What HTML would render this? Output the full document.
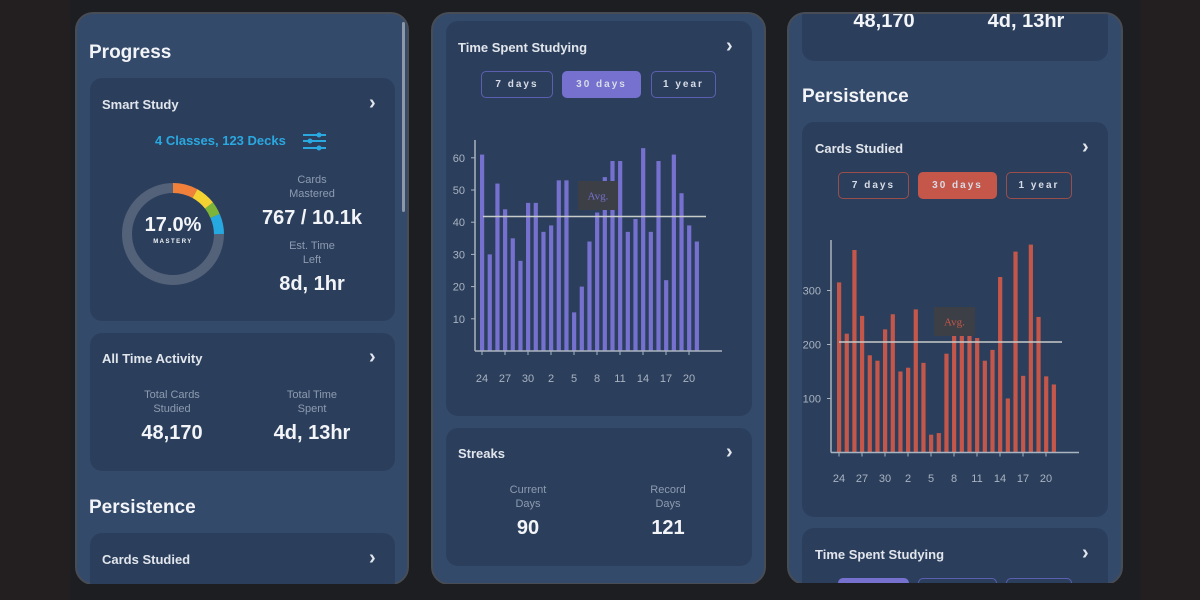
<!DOCTYPE html>
<html><head><style>
*{margin:0;padding:0;box-sizing:border-box}
body{width:1200px;height:600px;overflow:hidden;background:#1c1e22;font-family:"Liberation Sans",sans-serif;position:relative;color:#e8ecf2}
.a{position:absolute}
.panel{position:absolute;background:#344a6b;border:2px solid #474c55;border-radius:18px;overflow:hidden}
.card{position:absolute;background:#2b3f5d;border-radius:12px}
.h1{position:absolute;font-size:19px;font-weight:bold;color:#f2f4f7}
.t{position:absolute;font-size:13px;font-weight:bold;color:#e2e6ec}
.chev{position:absolute;font-size:20px;font-weight:bold;color:#e2e6ec;line-height:20px}
.lbl{position:absolute;font-size:11px;color:#8d9bb0;text-align:center;line-height:14px}
.big{position:absolute;font-size:20px;font-weight:bold;color:#f2f4f7;text-align:center}
.btn{position:absolute;border:1.5px solid;border-radius:5px;font-size:10px;font-weight:bold;letter-spacing:2px;color:#d8dce6;display:flex;align-items:center;justify-content:center}
</style></head><body>
<div class="a" style="left:0;top:0;width:70px;height:600px;background:#231f20"></div>
<div class="a" style="left:1140px;top:0;width:60px;height:600px;background:#231f20"></div>

<!-- LEFT PANEL -->
<div class="panel" style="left:75px;top:12px;width:334px;height:573px"></div>
<div class="a" style="left:402px;top:22px;width:3px;height:190px;background:#8c97a8;border-radius:2px"></div>
<div class="h1" style="left:89px;top:42px">Progress</div>
<div class="card" style="left:90px;top:78px;width:305px;height:243px"></div>
<div class="t" style="left:102px;top:97px">Smart Study</div>
<div class="chev" style="left:369px;top:93px">›</div>
<div class="a" style="left:155px;top:133px;font-size:13px;font-weight:bold;color:#2aa8e0">4 Classes, 123 Decks</div>
<svg class="a" style="left:302px;top:131px" width="26" height="20"><g stroke="#2aa8e0" stroke-width="2"><line x1="1" y1="4" x2="24" y2="4"/><line x1="1" y1="10" x2="24" y2="10"/><line x1="1" y1="17" x2="24" y2="17"/></g><g fill="#2aa8e0"><circle cx="17" cy="4" r="2.5"/><circle cx="8" cy="10" r="2.5"/><circle cx="17" cy="17" r="2.5"/></g></svg>
<svg class="a" style="left:118px;top:179px" width="110" height="110">
<circle cx="55" cy="55" r="46" fill="none" stroke="#536179" stroke-width="10"/>
<path d="M55 9 A46 46 0 0 1 77 14.6" fill="none" stroke="#f0803a" stroke-width="10"/>
<path d="M77 14.6 A46 46 0 0 1 91 26.5" fill="none" stroke="#f3d232" stroke-width="10"/>
<path d="M91 26.5 A46 46 0 0 1 97 37" fill="none" stroke="#7db53a" stroke-width="10"/>
<path d="M97 37 A46 46 0 0 1 101 55" fill="none" stroke="#26a8e0" stroke-width="10"/>
</svg>
<div class="a" style="left:133px;top:214px;width:80px;text-align:center;font-size:20px;font-weight:bold;color:#f2f4f7">17.0%</div>
<div class="a" style="left:133px;top:239px;width:80px;text-align:center;font-size:6px;font-weight:bold;letter-spacing:1.5px;color:#f2f4f7">MASTERY</div>
<div class="lbl" style="left:262px;top:173px;width:100px">Cards<br>Mastered</div>
<div class="big" style="left:242px;top:207px;width:140px">767 / 10.1k</div>
<div class="lbl" style="left:262px;top:239px;width:100px">Est. Time<br>Left</div>
<div class="big" style="left:262px;top:273px;width:100px">8d, 1hr</div>

<div class="card" style="left:90px;top:333px;width:305px;height:138px"></div>
<div class="t" style="left:102px;top:351px">All Time Activity</div>
<div class="chev" style="left:369px;top:347px">›</div>
<div class="lbl" style="left:122px;top:388px;width:100px">Total Cards<br>Studied</div>
<div class="big" style="left:122px;top:422px;width:100px">48,170</div>
<div class="lbl" style="left:262px;top:388px;width:100px">Total Time<br>Spent</div>
<div class="big" style="left:252px;top:422px;width:120px">4d, 13hr</div>
<div class="h1" style="left:89px;top:497px">Persistence</div>
<div class="card" style="left:90px;top:533px;width:305px;height:60px"></div>
<div class="t" style="left:102px;top:552px">Cards Studied</div>
<div class="chev" style="left:369px;top:548px">›</div>

<!-- MIDDLE PANEL -->
<div class="panel" style="left:431px;top:12px;width:335px;height:573px"></div>
<div class="card" style="left:446px;top:21px;width:306px;height:395px"></div>
<div class="t" style="left:458px;top:40px">Time Spent Studying</div>
<div class="chev" style="left:726px;top:36px">›</div>
<div class="btn" style="left:481px;top:71px;width:72px;height:27px;border-color:#5c5fb0">7 days</div>
<div class="btn" style="left:562px;top:71px;width:79px;height:27px;border-color:#7670cf;background:#7670cf">30 days</div>
<div class="btn" style="left:651px;top:71px;width:65px;height:27px;border-color:#5c5fb0">1 year</div>
<div class="card" style="left:446px;top:428px;width:306px;height:138px"></div>
<div class="t" style="left:458px;top:446px">Streaks</div>
<div class="chev" style="left:726px;top:442px">›</div>
<div class="lbl" style="left:478px;top:483px;width:100px">Current<br>Days</div>
<div class="big" style="left:478px;top:517px;width:100px">90</div>
<div class="lbl" style="left:618px;top:483px;width:100px">Record<br>Days</div>
<div class="big" style="left:618px;top:517px;width:100px">121</div>

<!-- RIGHT PANEL -->
<div class="panel" style="left:787px;top:12px;width:336px;height:573px">
 <div class="card" style="left:13px;top:-12px;width:306px;height:59px"></div>
 <div class="big" style="left:45px;top:-4px;width:100px">48,170</div>
 <div class="big" style="left:177px;top:-4px;width:120px">4d, 13hr</div>
</div>
<div class="h1" style="left:802px;top:86px">Persistence</div>
<div class="card" style="left:802px;top:122px;width:306px;height:395px"></div>
<div class="t" style="left:815px;top:141px">Cards Studied</div>
<div class="chev" style="left:1082px;top:137px">›</div>
<div class="btn" style="left:838px;top:172px;width:71px;height:27px;border-color:#9a4e4a">7 days</div>
<div class="btn" style="left:918px;top:172px;width:79px;height:27px;border-color:#c4574a;background:#c4574a">30 days</div>
<div class="btn" style="left:1006px;top:172px;width:66px;height:27px;border-color:#9a4e4a">1 year</div>
<div class="card" style="left:802px;top:528px;width:306px;height:70px"></div>
<div class="t" style="left:815px;top:547px">Time Spent Studying</div>
<div class="chev" style="left:1082px;top:543px">›</div>
<div class="a" style="left:838px;top:578px;width:71px;height:10px;background:#7670cf;border-radius:5px"></div>
<div class="a" style="left:918px;top:578px;width:79px;height:10px;border:1.5px solid #5c5fb0;border-radius:5px"></div>
<div class="a" style="left:1006px;top:578px;width:66px;height:10px;border:1.5px solid #5c5fb0;border-radius:5px"></div>
<div class="a" style="left:787px;top:583px;width:336px;height:17px;background:#1c1e22"></div>
<div class="a" style="left:431px;top:584px;width:335px;height:16px;background:#1c1e22"></div>
<div class="a" style="left:75px;top:584px;width:334px;height:16px;background:#1c1e22"></div>

<svg class="a" style="left:0;top:0" width="1200" height="600" id="s"></svg>
<script>
const s=document.getElementById('s');let h='';
function chart(vals,x0,ax,y0,pp,color,axisTop,axisRight,avg,box,lblY,yl){
 vals.forEach((v,i)=>{const x=x0+i*7.67;const y=y0-v*pp;h+=`<rect x="${x-2}" y="${y}" width="4.2" height="${y0-y}" fill="${color}"/>`;});
 h+=`<line x1="${ax}" y1="${axisTop}" x2="${ax}" y2="${y0}" stroke="#aab4bf" stroke-width="1.5"/><line x1="${ax}" y1="${y0}" x2="${axisRight}" y2="${y0}" stroke="#aab4bf" stroke-width="1.5"/>`;
 yl.forEach(t=>{const y=y0-t*pp;h+=`<line x1="${ax-4}" y1="${y}" x2="${ax}" y2="${y}" stroke="#aab4bf"/><text x="${ax-10}" y="${y+4}" text-anchor="end" font-size="11" fill="#a9b3c0" font-family="Liberation Sans">${t}</text>`});
 const L=['24','27','30','2','5','8','11','14','17','20'];
 L.forEach((l,i)=>{const x=x0+i*23;h+=`<line x1="${x}" y1="${y0}" x2="${x}" y2="${y0+4}" stroke="#aab4bf"/><text x="${x}" y="${lblY}" text-anchor="middle" font-size="11" fill="#a9b3c0" font-family="Liberation Sans">${l}</text>`});
 h+=`<rect x="${box[0]}" y="${box[1]}" width="${box[2]}" height="${box[3]}" fill="#3c3f45"/><text x="${box[0]+box[2]/2}" y="${box[1]+box[3]/2+4}" text-anchor="middle" font-size="11" fill="${color}" font-family="Liberation Serif">Avg.</text>`;
 h+=`<line x1="${avg[0]}" y1="${avg[2]}" x2="${avg[1]}" y2="${avg[2]}" stroke="#c8ccc8" stroke-width="1.5"/>`;
}
chart([61,30,52,44,35,28,46,46,37,39,53,53,12,20,34,43,54,59,59,37,41,63,37,59,22,61,49,39,34],482,475,351,3.22,'#7670cf',140,722,[483,706,216.5],[578,181,40,29],382,[10,20,30,40,50,60]);
chart([315,220,375,253,180,170,228,256,150,157,265,166,33,36,183,216,216,216,212,170,190,325,100,372,142,385,251,141,126],839,831,452.5,0.54,'#c4574a',240,1079,[839,1062,342],[934,307,41,29],482,[100,200,300]);
s.innerHTML=h;
</script>
</body></html>
